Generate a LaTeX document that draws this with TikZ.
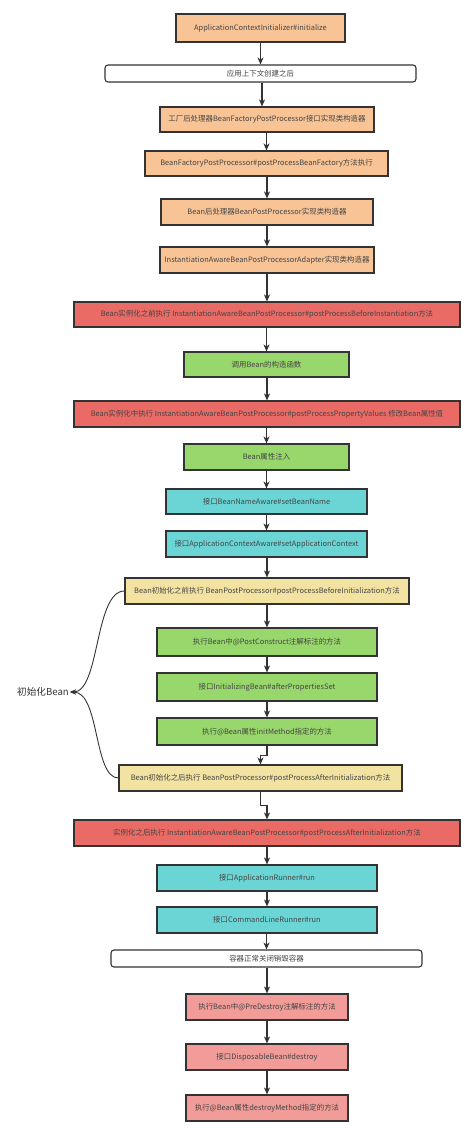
\documentclass[tikz,border=0pt]{standalone}
\usepackage{fontspec}
\setmainfont{Noto Sans CJK SC}
\usetikzlibrary{calc,positioning,arrows.meta}
\definecolor{peach}{HTML}{F8C496}
\definecolor{salmon}{HTML}{EA6B66}
\definecolor{leaf}{HTML}{98D76B}
\definecolor{aqua}{HTML}{6BD5D6}
\definecolor{sand}{HTML}{F2E3A3}
\definecolor{rose}{HTML}{F19C99}
\definecolor{edge}{HTML}{333333}
\definecolor{ink}{HTML}{444444}

\begin{document}
\begin{tikzpicture}[x=1pt,y=-1pt,
		box/.style={draw=edge, line width=1.1pt, text=ink, inner sep=0pt, minimum height=26pt, font=\fontsize{7.45}{8}\selectfont},
		roundbox/.style={box, fill=white, rounded corners=3pt, minimum height=17pt},
		flow/.style={draw=edge, line width=1.1pt, -{Stealth[length=7pt,width=6pt,inset=2pt]}},
		bracearrow/.style={draw=edge, line width=0.9pt, -{Stealth[length=6pt,width=5pt,inset=2pt]}}]
		\useasboundingbox (0,0) rectangle (474,1135);
		\node[box, fill=peach, minimum width=169pt, minimum height=28pt] (init) at (260.5,28) {ApplicationContextInitializer\#initialize};
		\node[roundbox, minimum width=311pt] (ctxup) at (260.5,73.5) {应用上下文创建之后};
		\node[box, fill=peach, minimum width=214pt, minimum height=25pt] (bfpp) at (267,119.5) {工厂后处理器BeanFactoryPostProcessor接口实现类构造器};
		\node[box, fill=peach, minimum width=243pt, minimum height=25pt] (bfppexec) at (266.5,163.5) {BeanFactoryPostProcessor\#postProcessBeanFactory方法执行};
		\node[box, fill=peach, minimum width=212pt] (bpp) at (267,212) {Bean后处理器BeanPostProcessor实现类构造器};
		\node[box, fill=peach, minimum width=214pt] (iabpp) at (267,260) {InstantiationAwareBeanPostProcessorAdapter实现类构造器};
		\node[box, fill=salmon, minimum width=386pt, minimum height=25pt] (beforeinst) at (267,314.5) {Bean实例化之前执行 InstantiationAwareBeanPostProcessor\#postProcessBeforeInstantiation方法};
		\node[box, fill=leaf, minimum width=165pt, minimum height=25pt] (ctor) at (266.5,364.5) {调用Bean的构造函数};
		\node[box, fill=salmon, minimum width=386pt] (propvals) at (267,414) {Bean实例化中执行 InstantiationAwareBeanPostProcessor\#postProcessPropertyValues 修改Bean属性值};
		\node[box, fill=leaf, minimum width=165pt] (inject) at (266.5,457) {Bean属性注入};
		\node[box, fill=aqua, minimum width=201pt, minimum height=25pt] (nameaware) at (266.5,501.5) {接口BeanNameAware\#setBeanName};
		\node[box, fill=aqua, minimum width=201pt] (ctxaware) at (266.5,544) {接口ApplicationContextAware\#setApplicationContext};
		\node[box, fill=sand, minimum width=284pt] (beforeinit) at (267,591) {Bean初始化之前执行 BeanPostProcessor\#postProcessBeforeInitialization方法};
		\node[box, fill=leaf, minimum width=220pt, minimum height=28pt] (postconstruct) at (267,642) {执行Bean中@PostConstruct注解标注的方法};
		\node[box, fill=leaf, minimum width=220pt, minimum height=28pt] (afterprops) at (267,687) {接口InitializingBean\#afterPropertiesSet};
		\node[box, fill=leaf, minimum width=220pt, minimum height=27pt] (initmethod) at (267,731.5) {执行@Bean属性initMethod指定的方法};
		\node[box, fill=sand, minimum width=283pt] (afterinit) at (260.5,778) {Bean初始化之后执行 BeanPostProcessor\#postProcessAfterInitialization方法};
		\node[box, fill=salmon, minimum width=386pt] (afterinst) at (267,833) {实例化之后执行 InstantiationAwareBeanPostProcessor\#postProcessAfterInitialization方法};
		\node[box, fill=aqua, minimum width=220pt] (apprunner) at (267,878) {接口ApplicationRunner\#run};
		\node[box, fill=aqua, minimum width=220pt] (cmdrunner) at (267,920) {接口CommandLineRunner\#run};
		\node[roundbox, minimum width=311pt] (shutdown) at (266.5,958.5) {容器正常关闭销毁容器};
		\node[box, fill=rose, minimum width=162pt] (predestroy) at (267,1007) {执行Bean中@PreDestroy注解标注的方法};
		\node[box, fill=rose, minimum width=162pt] (disposable) at (267,1057) {接口DisposableBean\#destroy};
		\node[box, fill=rose, minimum width=162pt] (destroymethod) at (267,1108) {执行@Bean属性destroyMethod指定的方法};
		\node[text=edge, inner sep=1pt, font=\fontsize{9.6}{11}\selectfont] (initlbl) at (43,692) {初始化Bean};
		\foreach \a/\b in {init/ctxup, bfpp/bfppexec, bfppexec/bpp, bpp/iabpp, iabpp/beforeinst, beforeinst/ctor, ctor/propvals, propvals/inject, inject/nameaware, nameaware/ctxaware, ctxaware/beforeinit, beforeinit/postconstruct, postconstruct/afterprops, afterprops/initmethod, afterinst/apprunner, apprunner/cmdrunner, cmdrunner/shutdown, shutdown/predestroy, predestroy/disposable, disposable/destroymethod}
			\draw[flow] (\b.north |- \a.south) -- (\b.north);
		\draw[flow] ([xshift=1.5pt]ctxup.south) -- ([xshift=-5pt]bfpp.north);
		\draw[flow] (initmethod.south) -- ++(0,10) -| (afterinit.north);
		\draw[flow] (afterinit.south) -- ++(0,14) -| (afterinst.north);
		\draw[bracearrow] (beforeinit.west) .. controls +(-30,0) and +(30,0) .. (initlbl.east);
		\draw[bracearrow] (afterinit.west) .. controls +(-25,0) and +(30,0) .. (initlbl.east);
	\end{tikzpicture}
\end{document}
